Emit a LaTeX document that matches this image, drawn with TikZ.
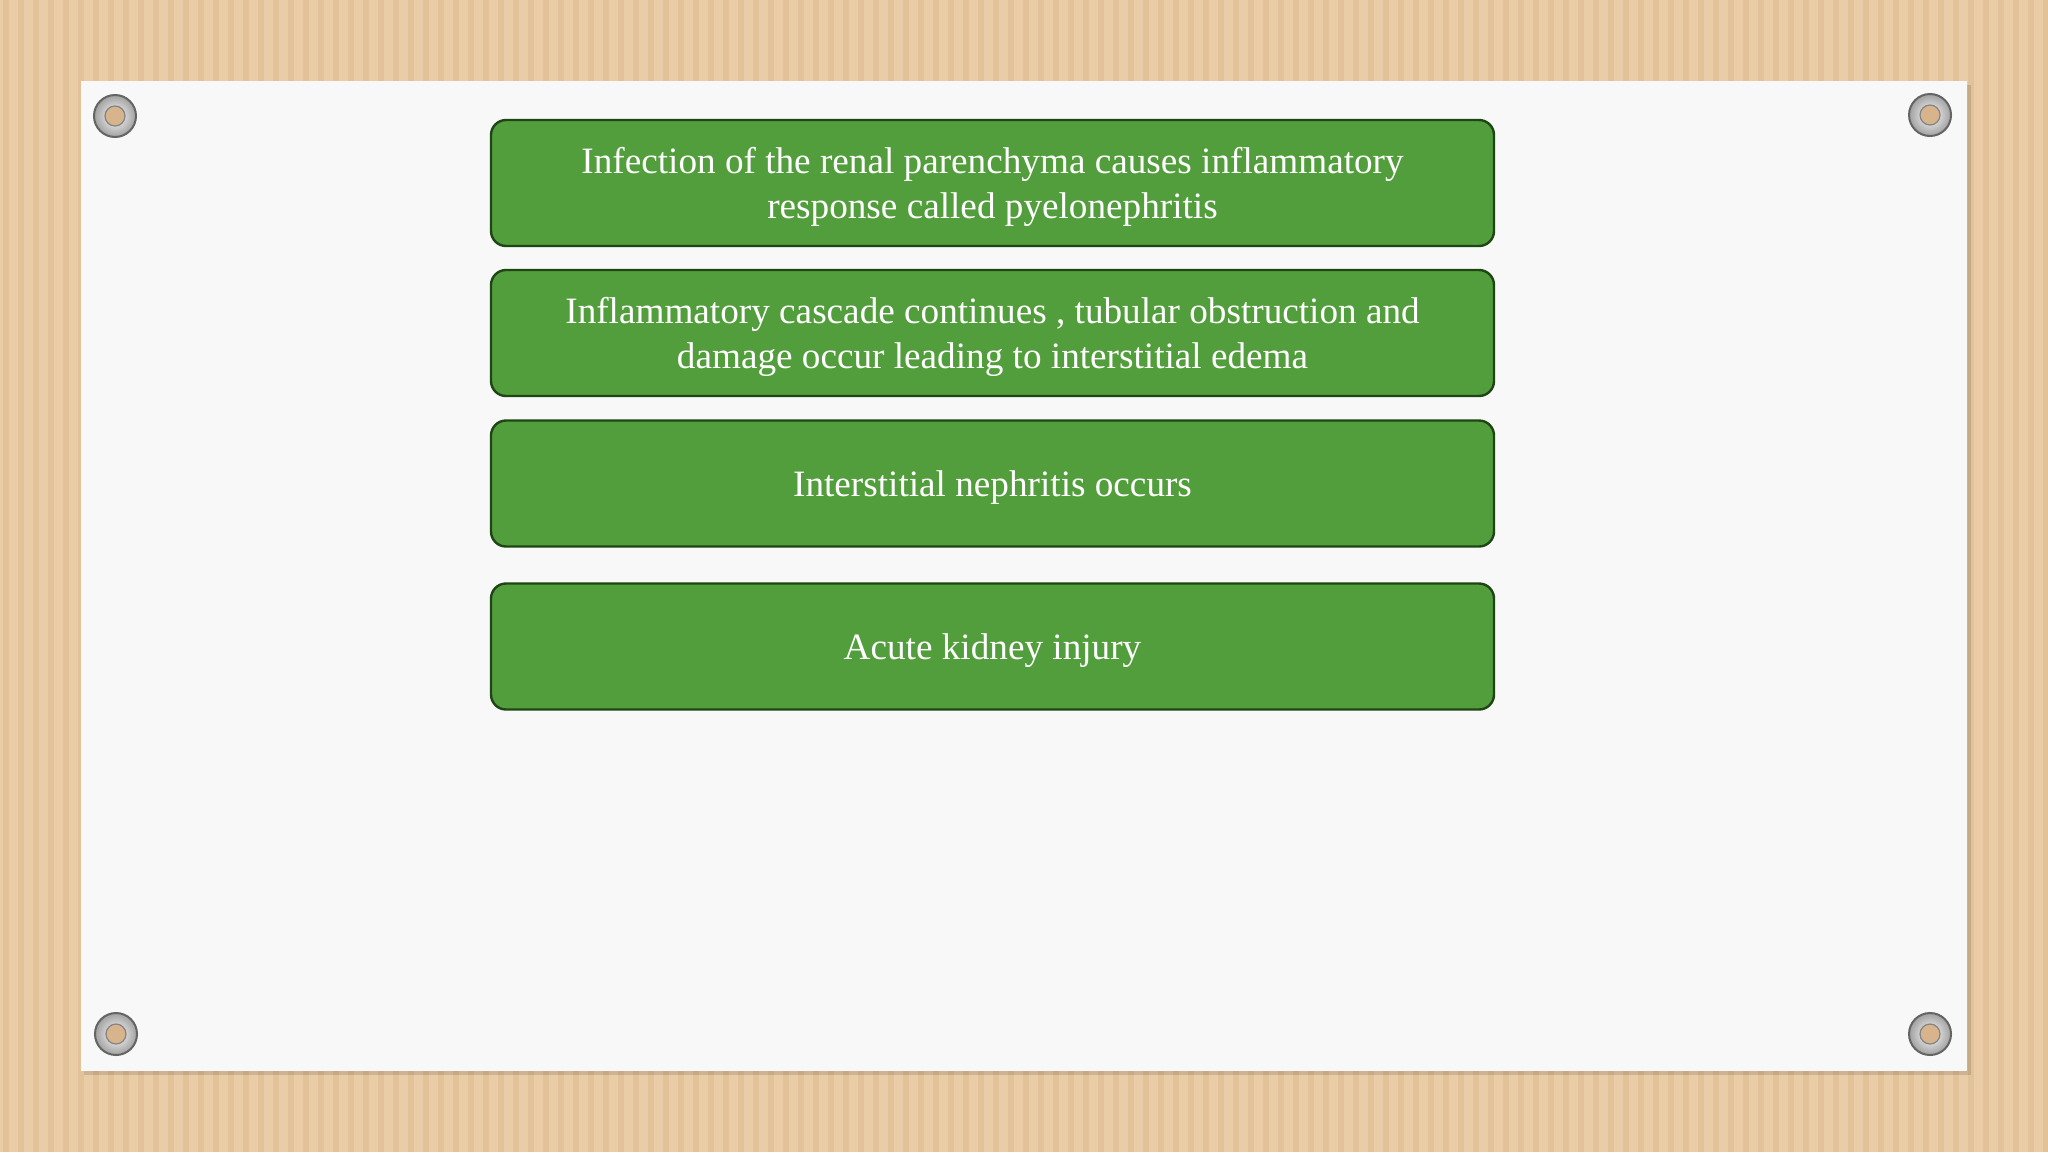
\documentclass[tikz,border=0pt]{standalone}
\usepackage{fontspec}
\setmainfont{Liberation Serif}
\definecolor{tanbg}{RGB}{234,204,166}
\definecolor{tanstripe}{RGB}{220,186,142}
\definecolor{paper}{RGB}{248,248,248}
\definecolor{boxgreen}{RGB}{83,158,60}
\definecolor{boxedge}{RGB}{30,70,20}
\definecolor{metal}{RGB}{200,200,200}
\definecolor{metaldark}{RGB}{100,100,100}
\definecolor{holetan}{RGB}{215,180,140}
\begin{document}
\begin{tikzpicture}[x=0.5pt,y=-0.5pt,
  stepbox/.style={draw=boxedge,line width=1.2pt,fill=boxgreen,rounded corners=7.5pt,
    minimum width=501.5pt,minimum height=63pt,inner sep=0pt},
  steptext/.style={text=white,align=center,font=\fontsize{18.6}{22.9}\selectfont,inner sep=0pt,yshift=-2pt},
  grommet/.style={circle,draw=metaldark,line width=1pt,inner color=white,outer color=metal!80!black,minimum size=21pt,inner sep=0pt}]
\useasboundingbox (0,0) rectangle (2048,1152);
\fill[tanbg] (0,0) rectangle (2048,1152);
\foreach \i in {0,...,136}{
  \fill[tanstripe,opacity=0.5] (\i*15+3,0) rectangle (\i*15+9,1152);
}
% paper shadow and paper
\fill[black,opacity=0.12] (84,85) rectangle (1971,1075);
\fill[paper] (81,81) rectangle (1967,1071);
% grommets
\foreach \n/\x/\y in {g1/115/116,g2/1930/115,g3/116/1034,g4/1930/1034}{
  \node[grommet] (\n) at (\x,\y) {};
  \fill[holetan,draw=metaldark!80,line width=0.6pt] (\n.center) circle (5pt);
}
% boxes
\node[stepbox] (b1) at (992.5,183) {};
\node[stepbox] (b2) at (992.5,333) {};
\node[stepbox] (b3) at (992.5,483.5) {};
\node[stepbox] (b4) at (992.5,646.5) {};
\node[steptext] (t1) at (b1.center) {Infection of  the renal parenchyma causes inflammatory\\response called pyelonephritis};
\node[steptext] (t2) at (b2.center) {Inflammatory cascade continues , tubular obstruction and\\damage occur leading to interstitial edema};
\node[steptext] (t3) at (b3.center) {Interstitial nephritis occurs};
\node[steptext] (t4) at (b4.center) {Acute kidney injury};
\end{tikzpicture}
\end{document}
